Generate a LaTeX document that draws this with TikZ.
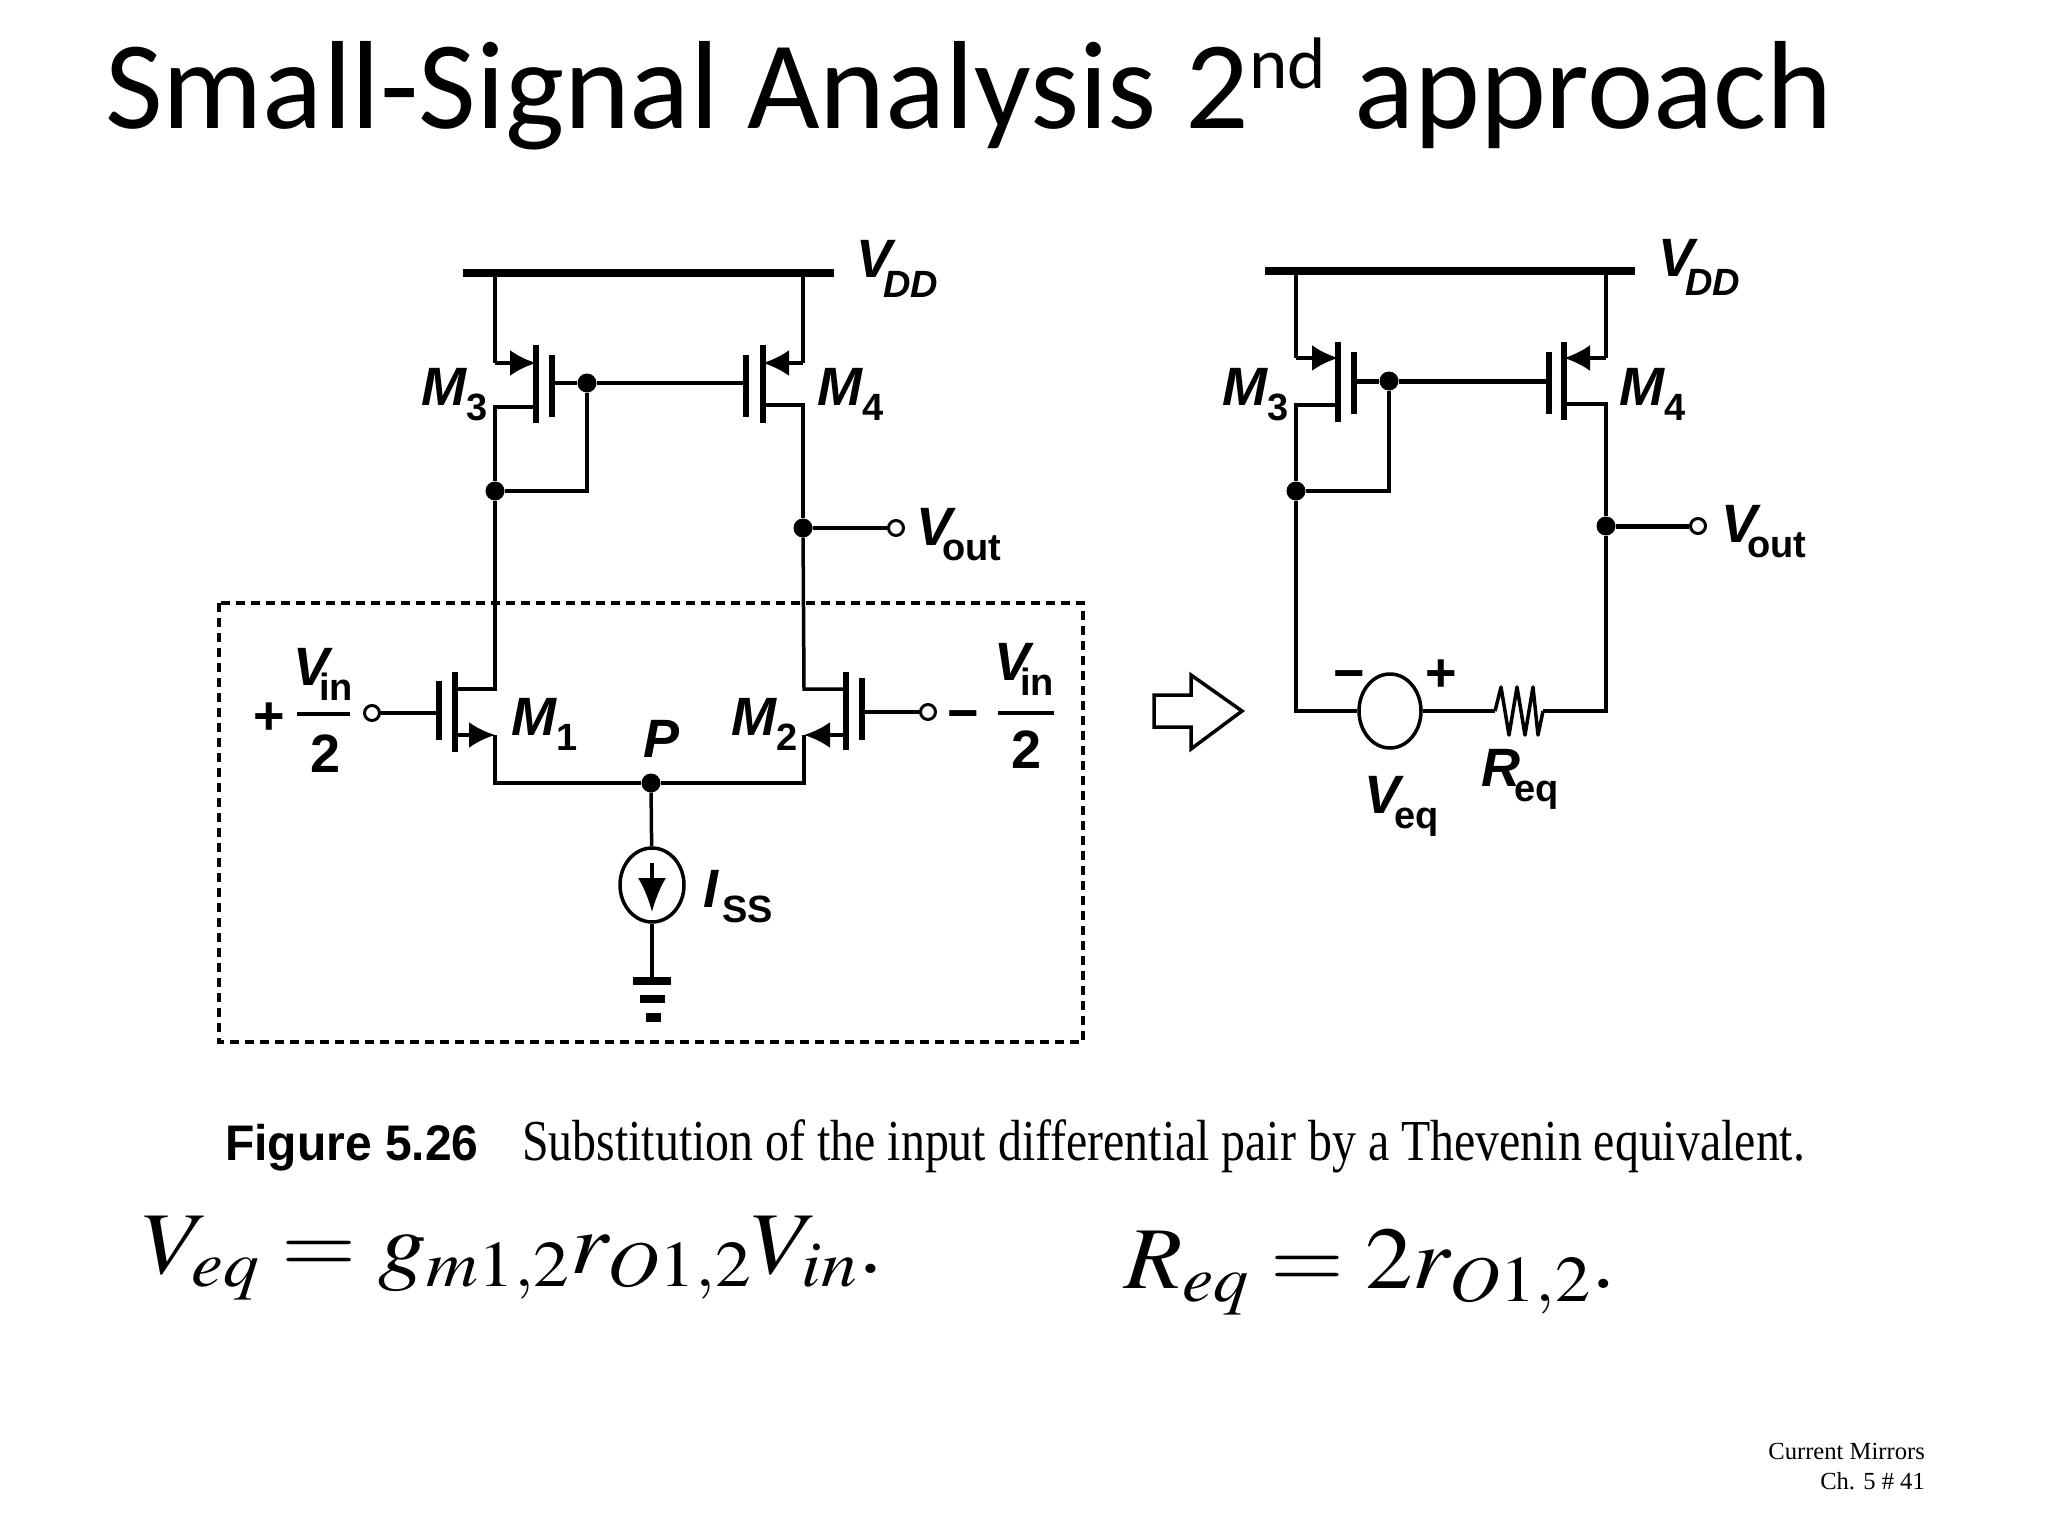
\documentclass[tikz,border=0pt]{standalone}
\usepackage{amsmath}
\usepackage{mathptmx}
\usepackage{fontspec}
\setmainfont{Liberation Serif}
\newfontfamily\titlefont{Carlito}
\newfontfamily\labfont{Liberation Sans}
\newfontfamily\capfont[FakeStretch=0.825]{Liberation Serif}
\newfontfamily\figfont[FakeStretch=0.96]{Liberation Sans}
\usetikzlibrary{arrows.meta,shapes.geometric}
\newcommand{\lab}[3]{{\itshape #2}\kern#1pt\raisebox{-15pt}{\fontsize{38}{38}\selectfont #3}}

\begin{document}
\begin{tikzpicture}[x=1pt,y=-1pt]
    \tikzstyle{wire}=[line width=3.5pt,line join=miter]
    \tikzstyle{heavy}=[line width=5pt]
    \tikzstyle{plate}=[line width=5.5pt]
    \tikzstyle{rail}=[line width=8pt]
    \tikzstyle{tip}=[wire,-{Latex[length=26pt,width=26pt]}]
    \tikzstyle{junction}=[circle,fill=black,inner sep=0pt,minimum size=19pt]
    \tikzstyle{port}=[circle,draw,fill=white,line width=3pt,inner sep=0pt,minimum size=15pt]
    \tikzstyle{source}=[ellipse,draw,line width=3.5pt,inner sep=0pt]
    \tikzstyle{lab}=[anchor=base west,inner sep=0pt,font=\labfont\bfseries\fontsize{54}{54}\selectfont]
\useasboundingbox (0,0) rectangle (2048,1536);

% title and footer
\node[anchor=base west,inner sep=0pt,font=\titlefont\fontsize{125.4}{125.4}\selectfont] (title) at (105,129)
    {Small-Signal Analysis 2\raisebox{.32em}{\fontsize{73}{73}\selectfont nd} approach};
\node[anchor=base east,inner sep=0pt,font=\fontsize{24.6}{24.6}\selectfont] (foot1) at (1925,1459) {Current Mirrors};
\node[anchor=base east,inner sep=0pt,font=\fontsize{24.6}{24.6}\selectfont] (foot2) at (1925,1489) {Ch. 5 \# 41};

% left circuit, supply and mirror
\coordinate (lddw) at (463,273);
\coordinate (ldde) at (834,273);
\draw[rail] (lddw) -- (ldde);
\coordinate (l3top) at (495,273);
\coordinate (l3s) at (495,363);
\coordinate (l3sc) at (536,363);
\coordinate (l3d) at (495,407);
\coordinate (l3dc) at (536,407);
\coordinate (l4top) at (803,273);
\coordinate (l4s) at (803,363);
\coordinate (l4sc) at (763,363);
\coordinate (l4d) at (803,405);
\coordinate (l4dc) at (763,405);
\node[junction] (lgate) at (587,383) {};
\node[junction] (ldiode) at (495,491) {};
\node[junction] (lout) at (803,528) {};
\node[port] (loutp) at (896,528) {};
\draw[wire] (l3top) -- (l3s);
\draw[tip] (l3s) -- (l3sc);
\draw[wire] (l4top) -- (l4s);
\draw[tip] (l4s) -- (l4sc);
\draw[plate] (536,345) -- (536,423);
\draw[plate] (552,355) -- (552,417);
\draw[plate] (763,345) -- (763,423);
\draw[plate] (746,355) -- (746,417);
\draw[wire] (l3dc) -- (l3d) -- (ldiode);
\draw[wire] (l4dc) -- (l4d) -- (lout);
\draw[wire] (552,383) -- (lgate) -- (746,383);
\draw[wire] (lgate) |- (ldiode);
\draw[wire] (lout) -- (loutp);

% left circuit, input pair inside the box
\draw[wire,dash pattern=on 9pt off 6pt] (219,603) rectangle (1083,1042);
\coordinate (l1d) at (495,689);
\coordinate (l1dc) at (455,689);
\coordinate (l1s) at (495,735);
\coordinate (l1sc) at (455,735);
\coordinate (l2d) at (804,689);
\coordinate (l2dc) at (846,689);
\coordinate (l2s) at (804,735);
\coordinate (l2sc) at (846,735);
\node[junction] (lp) at (651,783) {};
\node[port] (lin1) at (372,713) {};
\node[port] (lin2) at (928,712) {};
\node[source,minimum width=64pt,minimum height=74pt] (liss) at (652,885) {};
\coordinate (lgnd) at (652,977);
\draw[wire] (ldiode) -- (l1d) -- (l1dc);
\draw[wire] (lout) -- (l2d) -- (l2dc);
\draw[plate] (455,672) -- (455,752);
\draw[plate] (439,681) -- (439,740);
\draw[plate] (846,672) -- (846,750);
\draw[plate] (862,678) -- (862,740);
\draw[wire] (lin1) -- (439,713);
\draw[wire] (lin2) -- (862,712);
\draw[tip] (l1sc) -- (l1s);
\draw[tip] (l2sc) -- (l2s);
\draw[wire] (l1s) |- (lp);
\draw[wire] (l2s) |- (lp);
\draw[wire] (lp) -- (liss);
\draw[wire] (liss) -- (lgnd);
\draw[wire,-{Latex[length=34pt,width=28pt]}] (652,863) -- (652,912);
\fill (633,977) rectangle (671,985);
\fill (640,995) rectangle (665,1003);
\fill (646,1013) rectangle (661,1022);

% left circuit labels
\node[lab] (lvdd) at (856,277) {\lab{-9}{V}{\raisebox{-5pt}{\itshape DD}}};
\node[lab] (lm3) at (421,405) {\lab{0}{M}{3}};
\node[lab] (lm4) at (817,405) {\lab{0}{M}{4}};
\node[lab] (lvout) at (916,545) {\lab{-10}{V}{out}};
\node[lab] (lm1) at (511,735) {\lab{0}{M}{1}};
\node[lab] (lm2) at (731,735) {\lab{0}{M}{2}};
\node[lab] (lP) at (643,757) {\itshape P};
\node[lab] (liss1) at (703,907) {\lab{4}{I}{SS}};
\node[lab] (lplus) at (253,734) {+};
\draw[line width=4.5pt] (297,714) -- (350,714);
\node[lab] (lvin1) at (293,685) {\lab{-10}{V}{in}};
\node[lab] (ltwo1) at (310,772) {2};
\node[lab] (lminus) at (947,731) {\textminus};
\draw[line width=4.5pt] (998,713) -- (1054,713);
\node[lab] (lvin2) at (994,680) {\lab{-10}{V}{in}};
\node[lab] (ltwo2) at (1011,768) {2};

% big open arrow between the circuits
\draw[line width=3.5pt,line join=miter] (1154,695) -- (1191,695) -- (1191,675) -- (1242,711)
    -- (1191,749) -- (1191,727) -- (1154,727) -- cycle;

% right circuit
\coordinate (rddw) at (1265,271);
\coordinate (rdde) at (1635,271);
\draw[rail] (rddw) -- (rdde);
\coordinate (r3top) at (1296,271);
\coordinate (r3s) at (1296,358);
\coordinate (r3sc) at (1338,358);
\coordinate (r3d) at (1296,405);
\coordinate (r3dc) at (1338,405);
\coordinate (r4top) at (1606,271);
\coordinate (r4s) at (1606,358);
\coordinate (r4sc) at (1564,358);
\coordinate (r4d) at (1606,404);
\coordinate (r4dc) at (1564,404);
\node[junction] (rgate) at (1389,381) {};
\node[junction] (rdiode) at (1296,491) {};
\node[junction] (rout) at (1606,526) {};
\node[port] (routp) at (1698,526) {};
\node[source,minimum width=62pt,minimum height=74pt] (rveq) at (1390,711) {};
\coordinate (rbl) at (1296,711);
\coordinate (rbr) at (1606,711);
\coordinate (rres1) at (1495,711);
\coordinate (rres2) at (1543,711);
\draw[wire] (r3top) -- (r3s);
\draw[tip] (r3s) -- (r3sc);
\draw[wire] (r4top) -- (r4s);
\draw[tip] (r4s) -- (r4sc);
\draw[plate] (1338,342) -- (1338,422);
\draw[plate] (1354,352) -- (1354,414);
\draw[plate] (1564,342) -- (1564,420);
\draw[plate] (1549,352) -- (1549,414);
\draw[wire] (r3dc) -- (r3d) -- (rdiode);
\draw[wire] (r4dc) -- (r4d) -- (rout);
\draw[heavy] (1354,381) -- (rgate) -- (1549,381);
\draw[wire] (rgate) |- (rdiode);
\draw[heavy] (rout) -- (routp);
\draw[wire] (rdiode) -- (rbl) -- (rveq);
\draw[wire] (rveq) -- (rres1);
\draw[wire,line join=round] (rres1) -- (1501,687) -- (1509,735) -- (1517,687) -- (1525,735) -- (1533,687) -- (1538,735) -- (rres2);
\draw[wire] (rres2) -- (rbr) -- (rout);

% right circuit labels
\node[lab] (rvdd) at (1658,276) {\lab{-9}{V}{\raisebox{-4pt}{\itshape DD}}};
\node[lab] (rm3) at (1222,405) {\lab{0}{M}{3}};
\node[lab] (rm4) at (1619,405) {\lab{0}{M}{4}};
\node[lab] (rvout) at (1721,542) {\lab{-10}{V}{out}};
\node[lab] (rminus) at (1333,691) {\textminus};
\node[lab] (rplus) at (1425,691) {+};
\node[lab] (rveq1) at (1364,813) {\lab{-6}{V}{eq}};
\node[lab] (rreq) at (1481,786) {\lab{-6}{R}{eq}};

% caption and equations
\node[anchor=base west,inner sep=0pt,font=\figfont\bfseries\fontsize{50}{50}\selectfont] (figno) at (225,1160) {Figure 5.26};
\node[anchor=base west,inner sep=0pt,font=\capfont\fontsize{58}{58}\selectfont] (caption) at (522,1160)
    {Substitution of the input differential pair by a Thevenin equivalent.};
\node[anchor=base west,inner sep=0pt,xscale=1.10,transform shape,font=\fontsize{88}{88}\selectfont] (eqv) at (142,1273)
    {$V_{eq}=g_{m1,2}r_{O1,2}V_{in}.$};
\node[anchor=base west,inner sep=0pt,xscale=1.08,transform shape,font=\fontsize{88}{88}\selectfont] (eqr) at (1124,1288)
    {$R_{eq}=2r_{O1,2}.$};
    ;
\end{tikzpicture}
\end{document}
